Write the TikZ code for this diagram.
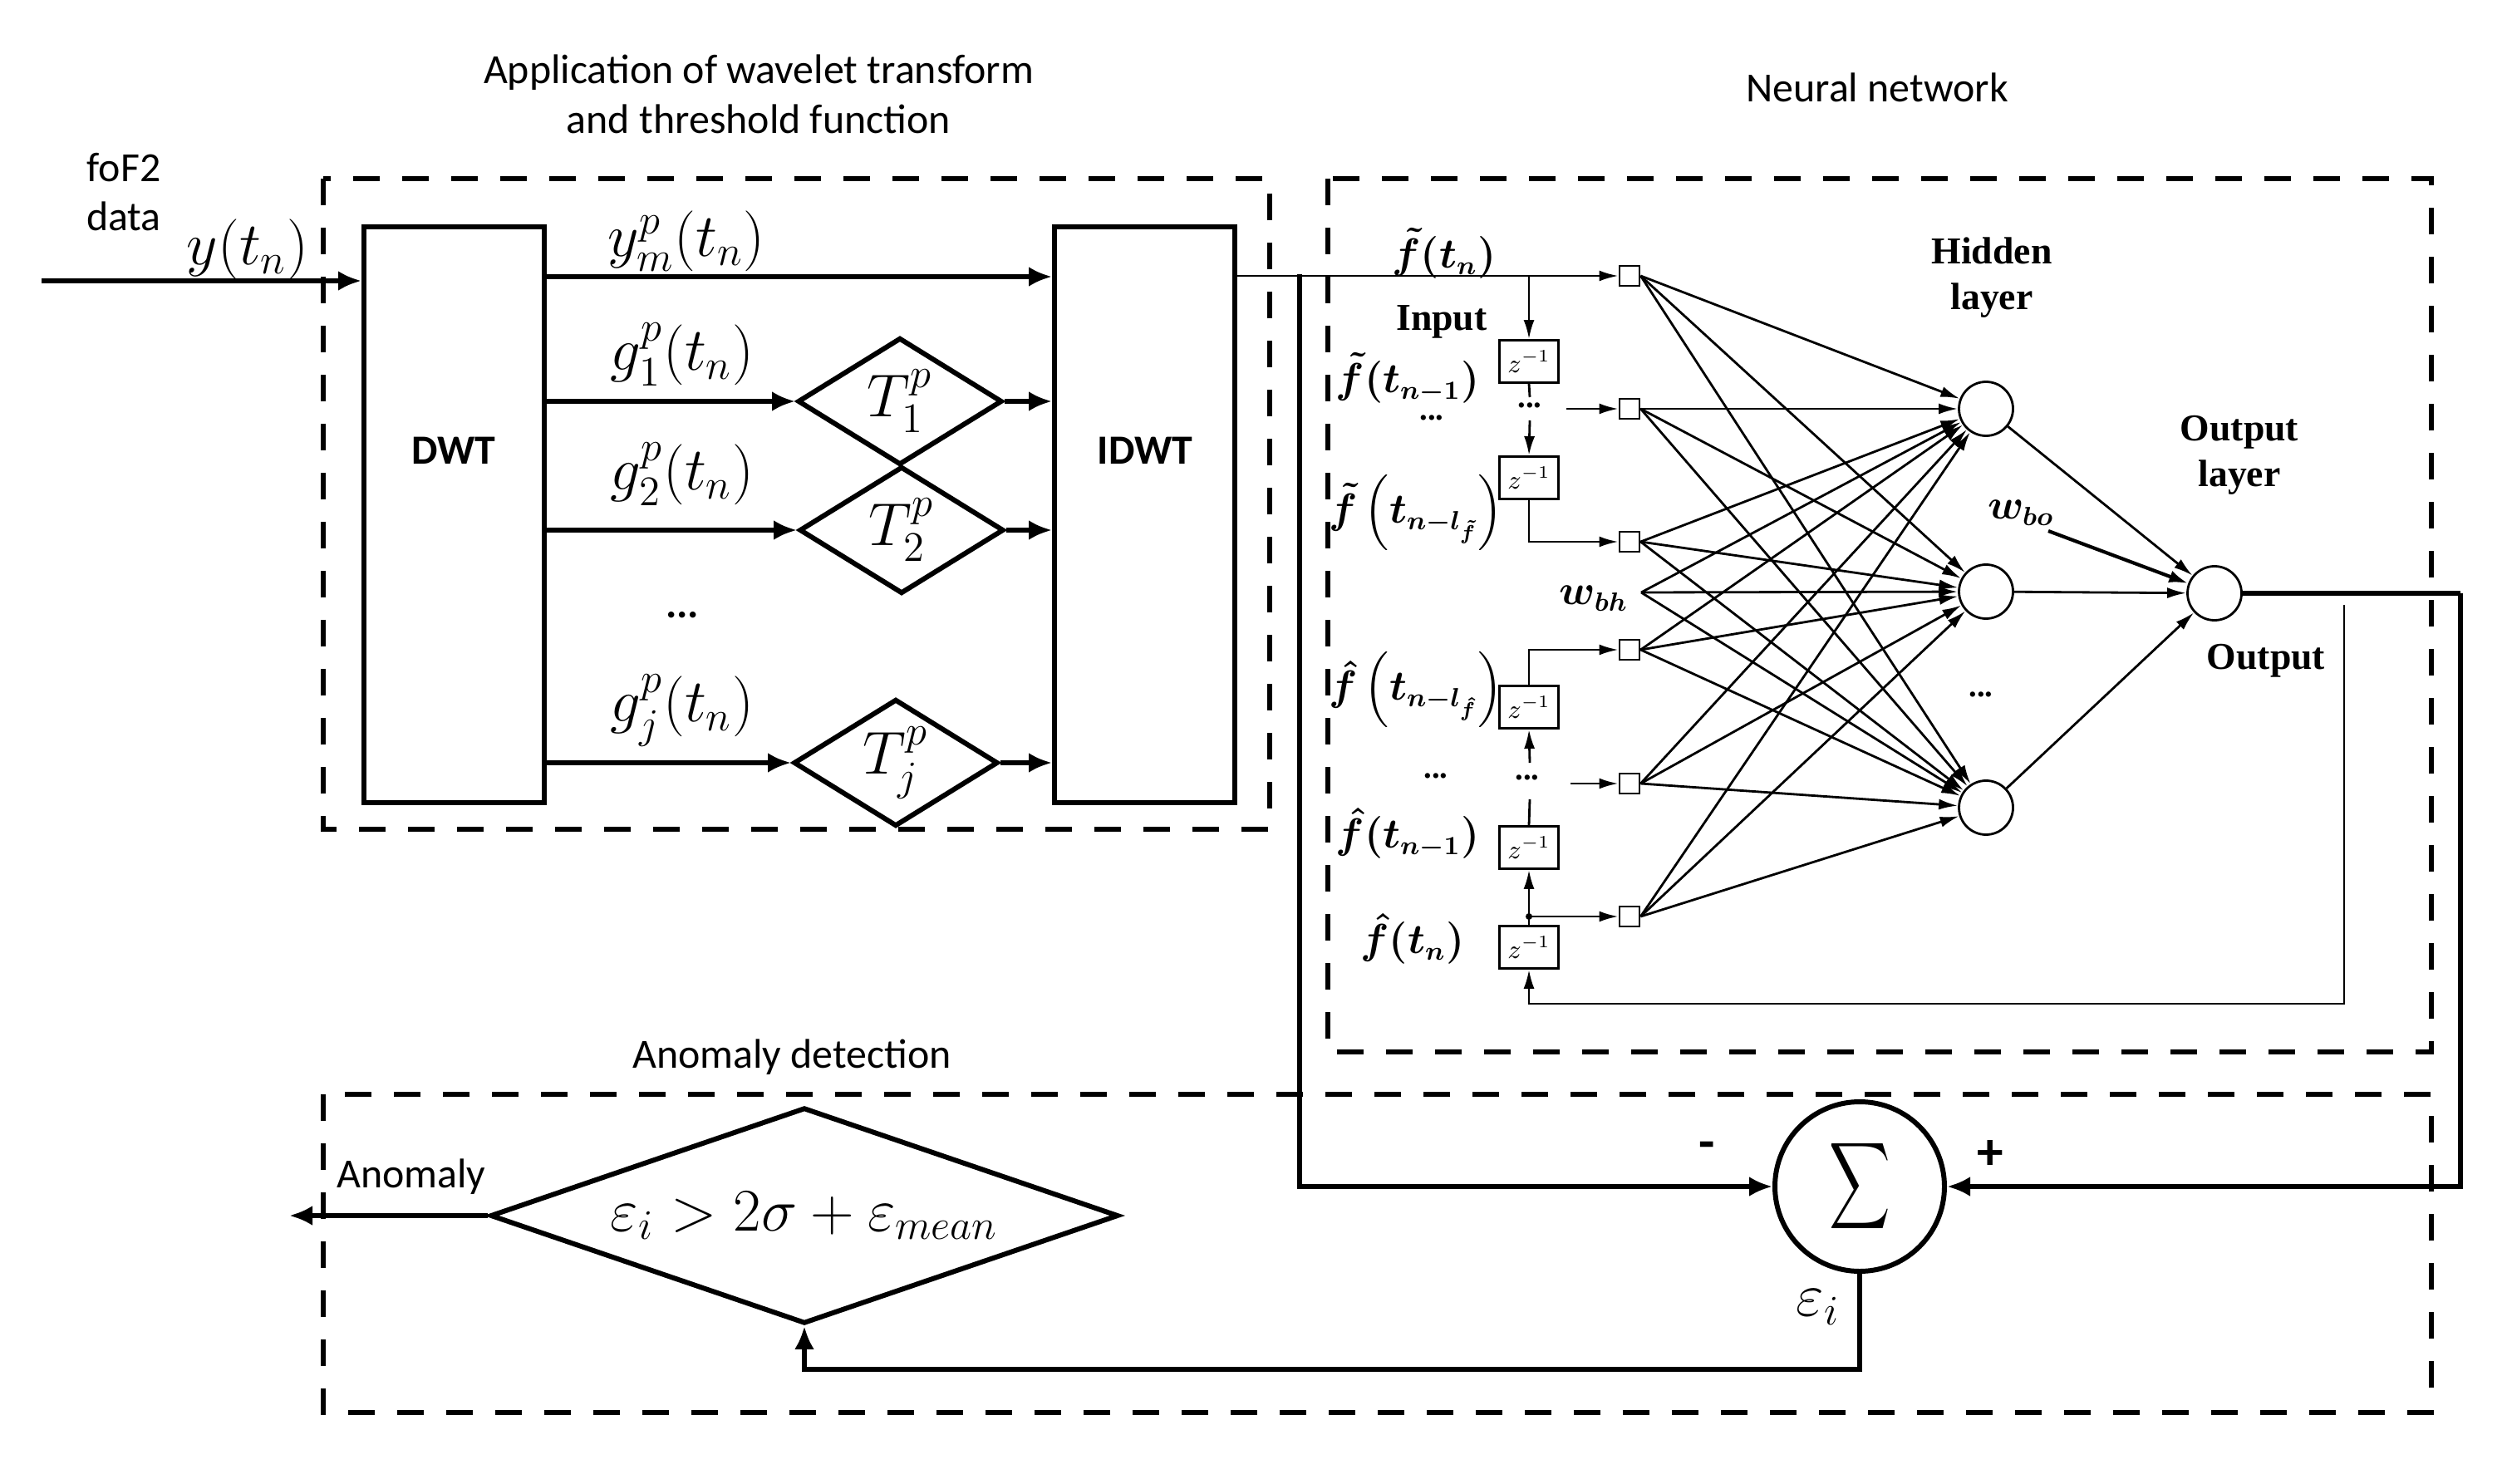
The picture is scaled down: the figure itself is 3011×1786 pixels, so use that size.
\documentclass[tikz,border=0pt]{standalone}
\usepackage{amsmath}
\usepackage{bm}
\usepackage{graphicx}
\usepackage[no-math]{fontspec}
\newfontfamily\calf{Carlito}
\newfontfamily\tmsf{Liberation Serif}
\usetikzlibrary{arrows.meta,shapes.geometric,calc}
\begin{document}
\begin{tikzpicture}[x=0.1mm,y=-0.1mm,
  thk/.style={line width=1.7pt},
  tarrow/.style={line width=1.7pt,-{Latex[length=2.8mm,width=2.4mm]}},
  nnline/.style={line width=0.8pt},
  nnarrow/.style={line width=0.8pt,-{Latex[length=2.3mm,width=1.3mm]}},
  dashbox/.style={line width=1.7pt,dash pattern=on 3.2mm off 2.7mm},
  title/.style={font=\calf\fontsize{14.2}{17}\selectfont,align=center,inner sep=0},
  boldsans/.style={font=\calf\bfseries\fontsize{14.2}{17}\selectfont,inner sep=0},
  mathlbl/.style={font=\fontsize{21}{23}\selectfont,inner sep=0},
  nnlbl/.style={font=\tmsf\bfseries\fontsize{13}{15.5}\selectfont,align=center,inner sep=0},
  nndots/.style={font=\tmsf\bfseries\fontsize{11}{12}\selectfont,inner sep=0},
  nnmath/.style={font=\fontsize{13.5}{16}\selectfont,inner sep=0},
  sq/.style={draw,line width=0.8pt,minimum size=2.4mm,inner sep=0},
  zbox/.style={draw,line width=0.8pt,minimum width=7.1mm,minimum height=5.1mm,inner sep=0,font=\fontsize{9}{10}\selectfont},
  neuron/.style={circle,draw,line width=0.8pt,minimum size=6.5mm,inner sep=0},
  tdiam/.style={diamond,draw,line width=1.7pt,aspect=1.6,minimum width=24.6mm,minimum height=15.3mm,inner sep=0,font=\fontsize{20}{22}\selectfont},
  blk/.style={draw,line width=1.7pt,minimum width=21.7mm,minimum height=69.3mm,inner sep=0}
]
\useasboundingbox (0,0) rectangle (3011,1786);

% ---------- titles ----------
\node[title] (t1) at (913,113) {Application of wavelet transform\\and threshold function};
\node[title] (t2) at (2259,105) {Neural network};
\node[title] (t3) at (149,231) {foF2\\data};
\node[title] (t4) at (953,1272) {Anomaly detection};

% ---------- dashed boxes ----------
\draw[dashbox] (389,215) rectangle (1528,998);
\draw[dashbox] (1598,215) rectangle (2926,1266);
\draw[dashbox] (389,1317) rectangle (2926,1700);

% ---------- wavelet part ----------
\node[blk] (dwt) at (546.5,619.5) {};
\node[blk] (idwt) at (1377.5,619.5) {};
\node[boldsans] (dwtl) at (546,542) {DWT};
\node[boldsans] (idwtl) at (1378,542) {IDWT};

\coordinate (src) at (50,338);
\draw[tarrow] (src) -- (src -| dwt.west);
\node[mathlbl] (ylbl) at (298,300) {$y(t_n)$};

\coordinate (ym) at (655,333);
\draw[tarrow] (ym) -- (ym -| idwt.west);
\node[mathlbl] (ymlbl) at (826,290) {$y_m^p(t_n)$};

\node[tdiam] (T1) at (1083,483) {$T_1^p$};
\node[tdiam] (T2) at (1085,638) {$T_2^p$};
\node[tdiam] (Tj) at (1078,918) {$T_j^p$};
\foreach \t in {T1,T2,Tj}{
  \draw[tarrow] (dwt.east |- \t.west) -- (\t.west);
  \draw[tarrow] (\t.east) -- (\t.east -| idwt.west);
}
\node[mathlbl] (g1) at (821,427) {$g_1^p(t_n)$};
\node[mathlbl] (g2) at (821,571) {$g_2^p(t_n)$};
\node[boldsans] (gdots) at (821,740) {...};
\node[mathlbl] (gj) at (821,855) {$g_j^p(t_n)$};

% ---------- neural network ----------
\node[sq] (in1) at (1961,332) {};
\node[sq] (in2) at (1961,492) {};
\node[sq] (in3) at (1961,652) {};
\node[sq] (in4) at (1961,782) {};
\node[sq] (in5) at (1961,943) {};
\node[sq] (in6) at (1961,1103) {};
\coordinate (bias) at (1975,713);

\node[zbox] (z1) at (1840,435) {$z^{-1}$};
\node[zbox] (z2) at (1840,575) {$z^{-1}$};
\node[zbox] (z3) at (1840,851) {$z^{-1}$};
\node[zbox] (z4) at (1840,1020) {$z^{-1}$};
\node[zbox] (z5) at (1840,1140) {$z^{-1}$};

\node[neuron] (h1) at (2390,492) {};
\node[neuron] (h2) at (2390,712) {};
\node[neuron] (h3) at (2390,972) {};
\node[neuron] (out) at (2665,714) {};

% IDWT output into the network
\draw[nnline,line width=0.6pt] (idwt.east |- in1) -- (z1.north |- in1);
\draw[nnarrow] (z1.north |- in1) -- (in1.west);
\draw[nnarrow] (z1.north |- in1) -- (z1.north);

% tilde chain
\node[nndots] (cd1) at (1841,488) {...};
\draw[nnline] (z1.south) -- (1841,478);
\draw[nnarrow] (1841,506) -- (z2.north);
\draw[nnarrow] (1885,492) -- (in2.west);
\draw[nnarrow] (z2.south) -- (z2.south |- in3) -- (in3.west);

% hat chain
\draw[nnarrow] (z3.north) -- (z3.north |- in4) -- (in4.west);
\node[nndots] (cd2) at (1838,936) {...};
\draw[nnarrow] (1841,918) -- (z3.south);
\draw[nnarrow] (1890,943) -- (in5.west);
\draw[nnline] (z4.north) -- (1841,962);
\coordinate (jn) at (z5.north |- in6);
\fill (jn) circle (4);
\draw[nnline] (z5.north) -- (jn);
\draw[nnarrow] (jn) -- (z4.south);
\draw[nnarrow] (jn) -- (in6.west);

% full connections
\foreach \i in {1,...,6}{
  \foreach \j in {1,2,3}{
    \draw[nnarrow] (in\i.east) -- (h\j);
  }
}
\foreach \j in {1,2,3}{
  \draw[nnarrow] (bias) -- (h\j);
  \draw[nnarrow] (h\j) -- (out);
}

% labels in the network
\node[nnmath] (lf1) at (1738,305) {$\bm{\tilde{f}(t_n)}$};
\node[nnlbl] (linput) at (1735,387) {Input};
\node[nnmath] (lf2) at (1694,455) {$\bm{\tilde{f}(t_{n-1})}$};
\node[nndots] (ld1) at (1723,503) {...};
\node[nnmath] (lf3) at (1704,617) {$\bm{\tilde{f}\left(t_{n-l_{\tilde f}}\right)}$};
\node[nnmath] (lwbh) at (1918,720) {$\bm{w_{bh}}$};
\node[nnmath] (lf4) at (1704,830) {$\bm{\hat{f}\left(t_{n-l_{\hat f}}\right)}$};
\node[nndots] (ld2) at (1728,934) {...};
\node[nnmath] (lf5) at (1694,1003) {$\bm{\hat{f}(t_{n-1})}$};
\node[nnmath] (lf6) at (1700,1130) {$\bm{\hat{f}(t_n)}$};
\node[nnlbl] (lhid) at (2397,334) {Hidden\\layer};
\node[nnlbl] (lol) at (2695,548) {Output\\layer};
\node[nnmath] (lwbo) at (2432,617) {$\bm{w_{bo}}$};
\coordinate (wbos) at (2465,639);
\draw[line width=1.2pt,-{Latex[length=2.3mm,width=1.5mm]}] (wbos) -- (out);
\node[nnlbl] (lout) at (2727,795) {Output};
\node[nndots] (lhd) at (2384,836) {...};

% feedback
\coordinate (fb1) at (2821,728);
\coordinate (fb2) at (2821,1208);
\draw[nnarrow] (fb1) -- (fb2) -- (fb2 -| z5.south) -- (z5.south);

% ---------- anomaly detection ----------
\node[circle,draw,line width=1.7pt,minimum size=20.4mm,inner sep=0] (sum) at (2238,1428)
  {\fontsize{19.5}{21}\selectfont\scalebox{0.7}[1]{$\displaystyle\sum$}};
\node[diamond,draw,line width=1.7pt,aspect=2.9,minimum width=75.6mm,minimum height=26mm,inner sep=0,
  font=\fontsize{20}{22}\selectfont] (dec) at (968,1463) {$\varepsilon_i > 2\sigma + \varepsilon_{mean}$};

\coordinate (lt) at (1564,330);
\draw[tarrow] (lt) -- (lt |- sum.west) -- (sum.west);
\coordinate (rt) at (2961,714);
\draw[thk] (out.east) -- (rt);
\draw[tarrow] (rt) -- (rt |- sum.east) -- (sum.east);
\coordinate (bt) at (2238,1648);
\draw[tarrow] (sum.south) -- (bt) -- (bt -| dec.south) -- (dec.south);
\coordinate (an) at (348,1463);
\draw[tarrow] (dec.west) -- (an);

\node[title] (lanom) at (495,1416) {Anomaly};
\node[font=\calf\bfseries\fontsize{18}{20}\selectfont,inner sep=0] (lminus) at (2054,1385) {-};
\node[font=\calf\bfseries\fontsize{18}{20}\selectfont,inner sep=0] (lplus) at (2395,1390) {+};
\node[font=\fontsize{20}{22}\selectfont,inner sep=0] (leps) at (2188,1573) {$\varepsilon_i$};
\end{tikzpicture}
\end{document}
